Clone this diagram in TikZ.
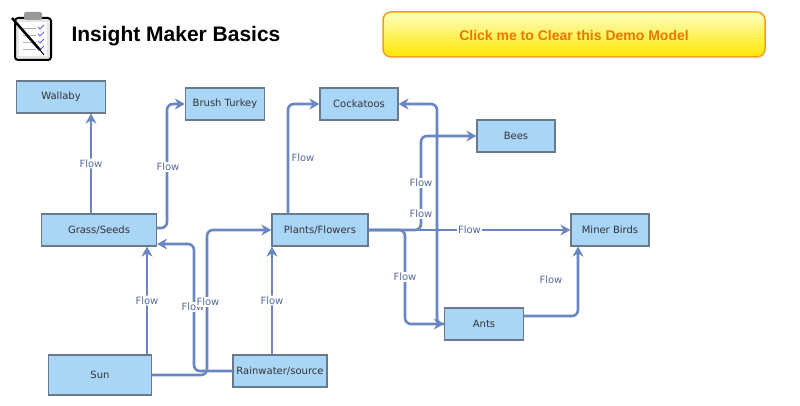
\documentclass[tikz,border=0pt]{standalone}
\usepackage{fontspec}
\setmainfont{DejaVu Sans}
\newfontfamily\titlefont{Liberation Sans}
\usetikzlibrary{arrows.meta}
\definecolor{boxfill}{HTML}{A9D5F7}
\definecolor{boxdraw}{HTML}{6A7A8C}
\definecolor{flowc}{HTML}{6A86C2}
\definecolor{btnorange}{HTML}{F0A020}
\definecolor{btntext}{HTML}{E8780A}
\begin{document}
\begin{tikzpicture}[x=1pt,y=-1pt,
  stock/.style={draw=boxdraw,fill=boxfill,line width=1.2pt,minimum height=32pt,inner sep=0pt,font=\fontsize{10}{12}\selectfont,text=black!80},
  flow/.style={draw=flowc,line width=2.6pt,rounded corners=6pt,-{Stealth[length=10pt,width=11pt]}},
  lbl/.style={fill=white,inner sep=1pt,text=flowc!80!black,font=\fontsize{10}{12}\selectfont}]
\useasboundingbox (0,0) rectangle (800,406);
% icon
\node[draw=black,line width=2pt,fill=black!10,rounded corners=3pt,minimum width=36pt,minimum height=42pt] (clip) at (33,39) {};
\fill[white] (19,22) rectangle (47,56);
\fill[black!40,rounded corners=2pt] (24,12) rectangle (42,20);
\foreach \yy in {28,35,42,49} {\draw[black!30] (23,\yy) -- (36,\yy); \draw[blue!60,line width=0.8pt] (38,\yy-1) -- (40,\yy+1) -- (44,\yy-3);}
\draw[black,line width=2.5pt] (12,18) -- (40,50);
\draw[black,line width=1pt] (40,50) -- (44,55);
\node[anchor=west,font=\titlefont\bfseries\fontsize{21}{24}\selectfont] (title) at (68,36) {Insight Maker Basics};
% button
\shade[top color=yellow!25, bottom color=yellow!80!orange, rounded corners=8pt] (383,12) rectangle (765,57);
\draw[btnorange,line width=1.5pt,rounded corners=8pt] (383,12) rectangle (765,57);
\node[font=\titlefont\bfseries\fontsize{14}{16}\selectfont,text=btntext] (btn) at (574,35) {Click me to Clear this Demo Model};
% stocks
\node[stock,minimum width=89pt] (wal) at (61,97) {Wallaby};
\node[stock,minimum width=79pt] (bt) at (225,104) {Brush Turkey};
\node[stock,minimum width=78pt] (cock) at (359,104) {Cockatoos};
\node[stock,minimum width=78pt] (bees) at (516,136) {Bees};
\node[stock,minimum width=115pt] (gs) at (99,230) {Grass/Seeds};
\node[stock,minimum width=96pt] (pf) at (320,230) {Plants/Flowers};
\node[stock,minimum width=78pt] (mb) at (610,230) {Miner Birds};
\node[stock,minimum width=79pt] (ants) at (484,324) {Ants};
\node[stock,minimum width=103pt,minimum height=40pt] (sun) at (100,375) {Sun};
\node[stock,minimum width=94pt] (rain) at (280,371) {Rainwater/source};
% flows
\draw[flow] (gs.north -| 91,0) -- (wal.south -| 91,0) node[lbl,pos=0.5] {Flow};
\draw[flow] (gs.east |- 0,228) -- (167,228) -- (167,104) -- (bt.west);
\node[lbl] (l2) at (168,167) {Flow};
\draw[flow] (pf.north -| 288,0) -- (288,104) -- (cock.west);
\node[lbl] (l3) at (303,158) {Flow};
\draw[flow] (sun.north -| 147,0) -- (gs.south -| 147,0) node[lbl,pos=0.5] {Flow};
\draw[flow] (rain.west |- 0,371) -- (194,371) -- (194,244) -- (gs.east |- 0,244);
\draw[flow] (sun.east) -- (207,375) -- (207,230) -- (pf.west);
\node[lbl] (l5) at (193,307) {Flow};
\node[lbl] (l6) at (208,302) {Flow};
\draw[flow] (rain.north -| 272,0) -- (pf.south -| 272,0) node[lbl,pos=0.5] {Flow};
\draw[flow] (ants.west |- 0,324) -- (437,324) -- (437,104) -- (cock.east);
\draw[flow] (pf.east) -- (421,230) -- (421,136) -- (bees.west);
\node[lbl] (l8) at (421,183) {Flow};
\node[lbl] (l9) at (421,214) {Flow};
\draw[flow] (pf.east) -- (mb.west) node[lbl,pos=0.5] {Flow};
\draw[flow] (pf.east) -- (405,230) -- (405,324) -- (ants.west);
\node[lbl] (l11) at (405,277) {Flow};
\draw[flow] (ants.east |- 0,316) -- (578,316) -- (mb.south -| 578,0);
\node[lbl] (l12) at (551,280) {Flow};
\end{tikzpicture}
\end{document}
